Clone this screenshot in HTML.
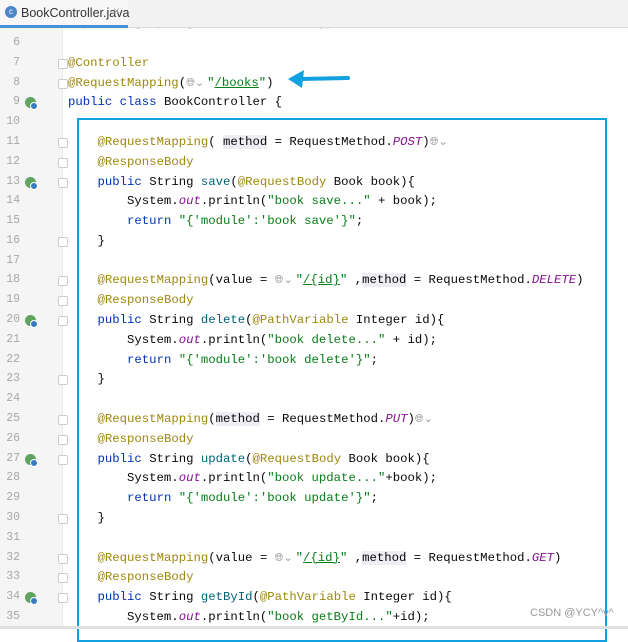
<!DOCTYPE html>
<html><head><meta charset="utf-8"><style>
html,body{margin:0;padding:0;}
body{width:628px;height:629px;position:relative;overflow:hidden;background:#fff;font-family:"Liberation Mono",monospace;}
.tabbar{position:absolute;left:0;top:0;width:628px;height:27px;background:#f2f2f2;border-bottom:1px solid #d8d8d8;z-index:5;}
.tab{position:absolute;left:0;top:0;width:128px;height:25px;background:#f7f7f7;border-bottom:3px solid #4a8fd8;font-family:"Liberation Sans",sans-serif;font-size:12.5px;color:#333;}
.tab .ic{position:absolute;left:5px;top:6px;width:12px;height:12px;border-radius:50%;background:#4a86c8;color:#fff;font-size:8px;line-height:12px;text-align:center;}
.tab .t{position:absolute;left:21px;top:6px;}
.tab .x{position:absolute;left:113px;top:4px;color:#aaa;font-size:12px;}
.gutter{position:absolute;left:0;top:28px;width:62px;height:600px;background:#f5f5f5;border-right:1px solid #eaeaea;}
.ln{position:absolute;left:0;width:20px;text-align:right;font-size:11.5px;color:#a8a8a8;}
.code{position:absolute;left:68px;font-size:12.3px;white-space:pre;color:#080808;}
.k{color:#0033b3}.a{color:#9e880d}.s{color:#067d17}.m{color:#00627a}.i{color:#871094;font-style:italic}.hl{background:#ededf4}
.g{color:#999;font-size:11px;display:inline-block;width:21px;}
.run{position:absolute;left:25px;width:11px;height:11px;border-radius:50%;background:#5ea35e;}
.run:after{content:"";position:absolute;left:5px;top:5px;width:6px;height:6px;border-radius:50%;background:#3a7bbf;border:1px solid #fff;}
.fold{position:absolute;left:58px;width:8px;height:8px;border:1px solid #ccc;border-radius:2px;background:#fff;}
.box{position:absolute;left:77px;top:118px;width:526px;height:520px;border:2px solid #11a0e0;}
.bottom{position:absolute;left:0;top:626px;width:628px;height:3px;background:#e0e0e0;}
.wm{position:absolute;left:530px;top:607px;font-family:"Liberation Sans",sans-serif;font-size:11px;color:#999;}
</style></head><body>
<div class="tabbar"><div class="tab"><span class="ic">c</span><span class="t">BookController.java</span><span class="x">×</span></div></div>
<div class="gutter"></div>
<div id="g"></div>
<div class="box"></div>
<svg style="position:absolute;left:286px;top:66px" width="80" height="30"><line x1="62" y1="12" x2="14" y2="13" stroke="#11a0e0" stroke-width="4" stroke-linecap="round"/><polygon points="2,13 18,4 16,22" fill="#11a0e0"/></svg>
<div class="bottom"></div>
<div class="wm">CSDN @YCY^v^</div>
<script>
const lines={
5:'<span style="color:#999">import org.springframework.stereotype.Controller;</span>',
6:'',
7:'<span class="a">@Controller</span>',
8:'<span class="a">@RequestMapping</span>(<span class="g">🌐︎⌄</span><span class="s">"<u>/books</u>"</span>)',
9:'<span class="k">public class</span> BookController {',
10:'',
11:'    <span class="a">@RequestMapping</span>( <span class="hl">method</span> = RequestMethod.<span class="i">POST</span>)<span class="g">🌐︎⌄</span>',
12:'    <span class="a">@ResponseBody</span>',
13:'    <span class="k">public</span> String <span class="m">save</span>(<span class="a">@RequestBody</span> Book book){',
14:'        System.<span class="i">out</span>.println(<span class="s">"book save..."</span> + book);',
15:'        <span class="k">return</span> <span class="s">"{\'module\':\'book save\'}"</span>;',
16:'    }',
17:'',
18:'    <span class="a">@RequestMapping</span>(value = <span class="g">🌐︎⌄</span><span class="s">"<u>/{id}</u>"</span> ,<span class="hl">method</span> = RequestMethod.<span class="i">DELETE</span>)',
19:'    <span class="a">@ResponseBody</span>',
20:'    <span class="k">public</span> String <span class="m">delete</span>(<span class="a">@PathVariable</span> Integer id){',
21:'        System.<span class="i">out</span>.println(<span class="s">"book delete..."</span> + id);',
22:'        <span class="k">return</span> <span class="s">"{\'module\':\'book delete\'}"</span>;',
23:'    }',
24:'',
25:'    <span class="a">@RequestMapping</span>(<span class="hl">method</span> = RequestMethod.<span class="i">PUT</span>)<span class="g">🌐︎⌄</span>',
26:'    <span class="a">@ResponseBody</span>',
27:'    <span class="k">public</span> String <span class="m">update</span>(<span class="a">@RequestBody</span> Book book){',
28:'        System.<span class="i">out</span>.println(<span class="s">"book update..."</span>+book);',
29:'        <span class="k">return</span> <span class="s">"{\'module\':\'book update\'}"</span>;',
30:'    }',
31:'',
32:'    <span class="a">@RequestMapping</span>(value = <span class="g">🌐︎⌄</span><span class="s">"<u>/{id}</u>"</span> ,<span class="hl">method</span> = RequestMethod.<span class="i">GET</span>)',
33:'    <span class="a">@ResponseBody</span>',
34:'    <span class="k">public</span> String <span class="m">getById</span>(<span class="a">@PathVariable</span> Integer id){',
35:'        System.<span class="i">out</span>.println(<span class="s">"book getById..."</span>+id);'
};
let h='';
const LH=19.79;
for(let n=5;n<=35;n++){
  const cy=44+(n-6)*LH;
  const top=cy-8;
  if(n>=6) h+=`<div class="ln" style="top:${top}px">${n}</div>`;
  h+=`<div class="code" style="top:${top}px">${lines[n]}</div>`;
  if([9,13,20,27,34].includes(n)) h+=`<div class="run" style="top:${cy-6}px"></div>`;
  if([7,8,11,12,13,16,18,19,20,23,25,26,27,30,32,33,34].includes(n)) h+=`<div class="fold" style="top:${cy-5}px"></div>`;
}
document.getElementById('g').innerHTML=h;
</script>
</body></html>
